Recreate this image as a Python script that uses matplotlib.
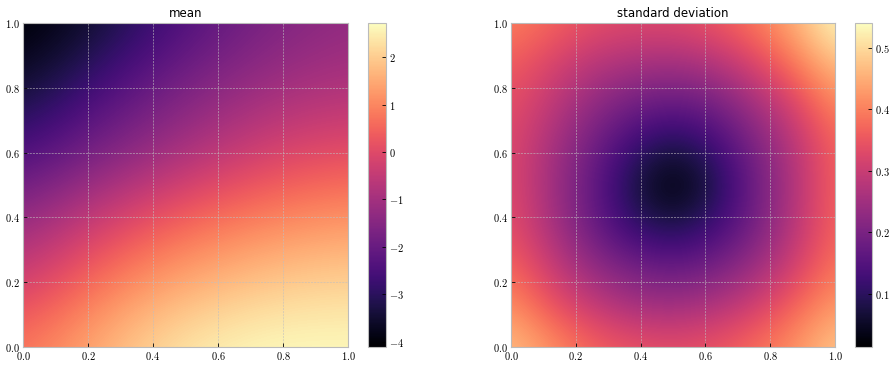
import numpy as np
import matplotlib
matplotlib.use('Agg')
from matplotlib import pyplot as plt
from matplotlib.ticker import FuncFormatter

# grid of the mean field, rows from y=0 (bottom) to y=1 (top), columns x=0..1
mean_x = [0.0, 0.2, 0.4, 0.6, 0.8, 1.0]
mean_y = [0.0, 0.2, 0.4, 0.6, 0.8, 1.0]
mean_vals = [
    [0.8, 1.5, 2.2, 2.6, 2.72, 2.7],
    [-0.3, 0.6, 1.3, 1.7, 2.0, 2.1],
    [-1.3, -0.5, 0.2, 0.7, 1.0, 1.2],
    [-2.5, -1.8, -1.2, -0.6, -0.1, 0.1],
    [-3.5, -2.7, -1.95, -1.4, -1.0, -0.8],
    [-4.11, -3.6, -2.8, -2.1, -1.6, -1.3],
]

# grid of the standard deviation, rows from y=0 (bottom) to y=1 (top)
std_x = [0.0, 0.125, 0.25, 0.375, 0.5, 0.625, 0.75, 0.875, 1.0]
std_y = [0.0, 0.125, 0.25, 0.375, 0.5, 0.625, 0.75, 0.875, 1.0]
std_vals = [
    [0.47, 0.42, 0.37, 0.35, 0.34, 0.35, 0.38, 0.42, 0.48],
    [0.42, 0.35, 0.30, 0.26, 0.25, 0.27, 0.31, 0.37, 0.43],
    [0.37, 0.30, 0.23, 0.19, 0.17, 0.19, 0.24, 0.31, 0.39],
    [0.34, 0.26, 0.18, 0.11, 0.08, 0.12, 0.19, 0.28, 0.37],
    [0.33, 0.25, 0.17, 0.08, 0.014, 0.08, 0.18, 0.27, 0.37],
    [0.33, 0.26, 0.19, 0.12, 0.08, 0.12, 0.20, 0.28, 0.37],
    [0.34, 0.29, 0.23, 0.19, 0.17, 0.19, 0.25, 0.32, 0.41],
    [0.36, 0.32, 0.28, 0.26, 0.25, 0.27, 0.32, 0.39, 0.47],
    [0.40, 0.37, 0.34, 0.33, 0.33, 0.35, 0.39, 0.45, 0.54],
]

axis_ticks = [0.0, 0.2, 0.4, 0.6, 0.8, 1.0]
mean_cbar_ticks = [-4, -3, -2, -1, 0, 1, 2]
std_cbar_ticks = [0.1, 0.2, 0.3, 0.4, 0.5]

plt.rcParams['mathtext.fontset'] = 'cm'
plt.rcParams['font.family'] = 'DejaVu Sans'

fig = plt.figure(figsize=(8.95, 3.67), dpi=100)

panels = [
    ('mean', mean_x, mean_y, mean_vals, mean_cbar_ticks, lambda v, p: '$%d$' % round(v),
     [0.0257, 0.0545, 0.3631, 0.8828], [0.4112, 0.0545, 0.0201, 0.8828]),
    ('standard deviation', std_x, std_y, std_vals, std_cbar_ticks, lambda v, p: '$%.1f$' % v,
     [0.5709, 0.0545, 0.3620, 0.8828], [0.9553, 0.0545, 0.0190, 0.8828]),
]

edge = '#bbbbbb'
for title, xs, ys, vals, cticks, cfmt, ax_pos, cax_pos in panels:
    ax = fig.add_axes(ax_pos)
    cax = fig.add_axes(cax_pos)
    # grid nodes sit at pixel centres
    hx = (xs[1] - xs[0]) / 2
    hy = (ys[1] - ys[0]) / 2
    img = ax.imshow(np.array(vals), cmap='magma', origin='lower', interpolation='bicubic',
                    extent=(xs[0] - hx, xs[-1] + hx, ys[0] - hy, ys[-1] + hy), aspect='auto')
    ax.set_xlim(0, 1)
    ax.set_ylim(0, 1)
    ax.set_xticks(axis_ticks)
    ax.set_yticks(axis_ticks)
    ax.xaxis.set_major_formatter(FuncFormatter(lambda v, p: '$%.1f$' % v))
    ax.yaxis.set_major_formatter(FuncFormatter(lambda v, p: '$%.1f$' % v))
    ax.tick_params(direction='in', length=3, width=0.6, labelsize=7.5, pad=2)
    ax.grid(True, color='#c0c0c0', linestyle=(0, (3, 1.5)), linewidth=0.5, alpha=0.8)
    for s in ax.spines.values():
        s.set_color(edge)
        s.set_linewidth(0.8)
    ax.set_title(title, fontsize=8.5, pad=4)

    cb = fig.colorbar(img, cax=cax, ticks=cticks)
    cb.ax.yaxis.set_major_formatter(FuncFormatter(cfmt))
    cb.ax.tick_params(direction='in', length=3, width=0.6, labelsize=7.5, pad=2)
    cb.outline.set_edgecolor(edge)
    cb.outline.set_linewidth(0.8)

fig.savefig('out.png', dpi=100)
